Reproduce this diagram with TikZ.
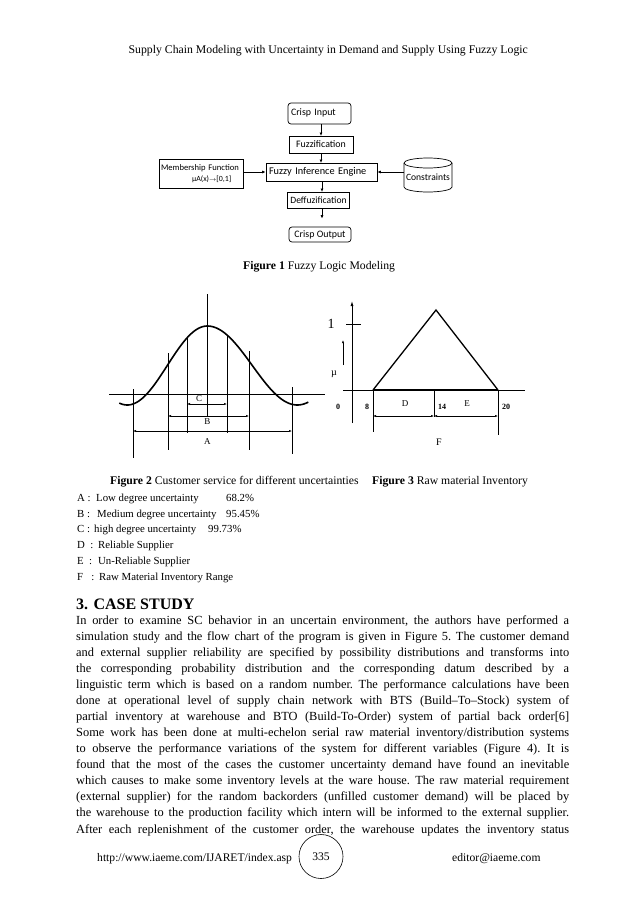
\documentclass[tikz,border=0pt]{standalone}
\usepackage{fontspec}
\setmainfont{Liberation Serif}
\newfontfamily\flowfont{Carlito}
\usetikzlibrary{arrows.meta}
\newcommand\myfs[1]{\fontsize{#1}{#1}\selectfont}
\tikzset{
  fbox/.style={draw, line width=0.7pt, inner xsep=3pt, inner ysep=0pt, font=\flowfont\myfs{9.9}},
  farrow/.style={line width=0.8pt, -{Latex[length=3.5pt,width=3pt]}},
  dimarrow/.style={line width=0.5pt, {Latex[length=3pt,width=2.2pt]}-{Latex[length=3pt,width=2.2pt]}},
  figline/.style={line width=0.8pt},
  txt/.style={anchor=base west, inner sep=0pt},
  body/.style={txt, font=\frenchspacing\myfs{12.4}},
  legend/.style={txt, font=\myfs{10.8}},
  caption/.style={txt, font=\myfs{11.7}},
  figlbl/.style={inner sep=0pt, font=\myfs{9}},
}
\begin{document}
\begin{tikzpicture}[x=1pt,y=-1pt]
\useasboundingbox[fill=white] (0,0) rectangle (638,902);

% header
\node[txt, font=\myfs{11.75}] (hdr) at (128.5,53.5) {Supply Chain Modeling with Uncertainty in Demand and Supply Using Fuzzy Logic};

% ---------- Figure 1 flowchart ----------
\node[fbox, rounded corners=3pt, minimum width=63pt, minimum height=21pt, text width=57pt, align=left] (ci) at (319.5,113.5) {\raisebox{2pt}{Crisp Input}};
\node[fbox, minimum width=64pt, minimum height=17pt] (fz) at (321,144.5) {Fuzzification};
\node[fbox, text width=105pt, align=left, minimum height=18pt, font=\flowfont\myfs{10.3}] (eng) at (321.5,172) {\raisebox{1.5pt}{Fuzzy Inference Engine}};
\node[fbox, text width=80pt, align=left, minimum width=84pt, minimum height=29pt, inner xsep=2pt, inner ysep=1pt, font=\flowfont\myfs{8.6}] (mf) at (201,173.5)
  {Membership Function\\[2.5pt]\hspace*{31pt}{\myfs{7.9}\textmu A(x)\ensuremath{\scriptstyle\rightarrow}[0,1]}};
\node[fbox, minimum width=61pt, minimum height=16pt, font=\flowfont\myfs{9.6}] (df) at (318.5,200) {Deffuzification};
\node[fbox, rounded corners=3pt, minimum width=62pt, minimum height=15pt] (co) at (320,234.5) {Crisp Output};
% constraints cylinder
\node[inner sep=0pt, minimum width=48pt, minimum height=34pt, font=\flowfont\myfs{9.6}] (con) at (428,177) {\raisebox{-2pt}{Constraints}};
\draw[line width=0.7pt] (404,163) -- (404,187) arc[start angle=180, end angle=360, x radius=24pt, y radius=5pt] -- (452,163);
\draw[line width=0.7pt] (428,163) ellipse[x radius=24pt, y radius=5pt];

\draw[farrow] (321,124) -- (321,136);
\draw[farrow] (321,153) -- (321,163);
\draw[farrow] (mf.east |- eng.west) -- (eng.west);
\draw[farrow] (con.west |- eng.east) -- (eng.east);
\draw[farrow] (322,181) -- (322,192);
\draw[farrow, shorten >=8pt] (df.south -| 322,0) -- (co.north -| 322,0);

\node[caption] (cap1) at (243,269) {\textbf{Figure 1} Fuzzy Logic Modeling};

% ---------- Figure 2 ----------
\draw[figline] (109,394) -- (325,394);
\draw[figline] (207.3,294) -- (207.3,417);
\draw[line width=1.6pt] plot[domain=-88:0, samples=60, smooth] ({207.3+\x},{365.5-39.5*cos(2.25*\x)});
\draw[line width=1.6pt] plot[domain=0:101, samples=60, smooth] ({207.3+\x},{365.5-39.5*cos(2*\x)});
\draw[figline] (187,337) -- (187,433);
\draw[figline] (227,335) -- (227,433);
\draw[figline] (168,353) -- (168,450);
\draw[figline] (249,351) -- (249,450);
\draw[figline] (133,389) -- (133,458);
\draw[figline] (292,387) -- (292,454);
\draw[dimarrow] (187,404) -- (227,404);
\draw[dimarrow] (168,416) -- (249,416);
\draw[dimarrow] (133,431) -- (292,431);
\node[figlbl] (lc) at (199,398.5) {C};
\node[figlbl] (lb) at (207.3,422) {B};
\node[figlbl] (la) at (207.3,442) {A};

% ---------- Figure 3 ----------
\draw[figline, -{Latex[length=5pt,width=3pt]}] (352,423) -- (352,301);
\draw[figline] (343,390) -- (525,390);
\draw[figline] (346,324) -- (361,324);
\draw[line width=0.6pt, -{Latex[length=3pt,width=2.2pt]}] (343,365) -- (343,340);
\draw[line width=2pt] (373,390) -- (498,390);
\draw[line width=1.3pt, line join=miter] (373,390) -- (436,310) -- (498,390);
\draw[figline] (434,390) -- (434,417);
\draw[figline] (373,390) -- (373,432);
\draw[figline] (498,390) -- (498,435);
\draw[dimarrow] (373,416) -- (434,416);
\draw[dimarrow] (434,416) -- (498,416);
\node[inner sep=0pt, font=\myfs{14}] (one) at (331,324) {1};
\node[figlbl, font=\myfs{10}] (mu) at (334,374) {\textmu};
\node[figlbl, font=\bfseries\myfs{8}] (n0) at (338,407) {0};
\node[figlbl, font=\bfseries\myfs{8}] (n8) at (367,407) {8};
\node[figlbl] (ld) at (405,404) {D};
\node[figlbl, font=\bfseries\myfs{8}] (n14) at (442,407) {14};
\node[figlbl] (le) at (467,404) {E};
\node[figlbl, font=\bfseries\myfs{8}] (n20) at (506,407) {20};
\node[figlbl, font=\myfs{10}] (lf) at (439,442) {F};

% captions
\node[caption] (cap2) at (110,484) {\textbf{Figure 2} Customer service for different uncertainties};
\node[caption] (cap3) at (372,484) {\textbf{Figure 3} Raw material Inventory};

% legend
\node[legend] (ga) at (77,501.5) {A :};
\node[legend] (ta) at (96,501.5) {Low degree uncertainty};
\node[legend] (pa) at (226,501.5) {68.2\%};
\node[legend] (gb) at (77,517.5) {B :};
\node[legend] (tb) at (97,517.5) {Medium degree uncertainty};
\node[legend] (pb) at (226,517.5) {95.45\%};
\node[legend] (gc) at (77,532.5) {C :};
\node[legend] (tc) at (94,532.5) {high degree uncertainty};
\node[legend] (pc) at (208,532.5) {99.73\%};
\node[legend] (gd) at (77,548.5) {D \ :};
\node[legend] (td) at (98,548.5) {Reliable Supplier};
\node[legend] (ge) at (77,564.5) {E \ :};
\node[legend] (te) at (98,564.5) {Un-Reliable Supplier};
\node[legend] (gf) at (77,580.5) {F \ \ :};
\node[legend] (tf) at (99,580.5) {Raw Material Inventory Range};

% section
\node[txt, font=\bfseries\myfs{16}] (sec) at (76,609.5) {3. CASE STUDY};

% body
\foreach \t [count=\i] in {
{In order to examine SC behavior in an uncertain environment, the authors have performed a},
{simulation study and the flow chart of the program is given in Figure 5. The customer demand},
{and external supplier reliability are specified by possibility distributions and transforms into},
{the corresponding probability distribution and the corresponding datum described by a},
{linguistic term which is based on a random number. The performance calculations have been},
{done at operational level of supply chain network with BTS (Build–To–Stock) system of},
{partial inventory at warehouse and BTO (Build-To-Order) system of partial back order[6]},
{Some work has been done at multi-echelon serial raw material inventory/distribution systems},
{to observe the performance variations of the system for different variables (Figure 4). It is},
{found that the most of the cases the customer uncertainty demand have found an inevitable},
{which causes to make some inventory levels at the ware house. The raw material requirement},
{(external supplier) for the random backorders (unfilled customer demand) will be placed by},
{the warehouse to the production facility which intern will be informed to the external supplier.},
{After each replenishment of the customer order, the warehouse updates the inventory status}}
{\node[body] (p\i) at (76,{624+16.08*(\i-1)}) {\makebox[493pt][s]{\t}};}

% footer
\node[txt, font=\myfs{11.6}] (url) at (97,861) {http://www.iaeme.com/IJARET/index.asp};
\node[draw, circle, line width=0.6pt, minimum size=44pt, inner sep=0pt, font=\myfs{11.6}] (pg) at (321,856.5) {335};
\node[txt, font=\myfs{11.6}] (mail) at (452,861) {editor@iaeme.com};
\end{tikzpicture}
\end{document}
